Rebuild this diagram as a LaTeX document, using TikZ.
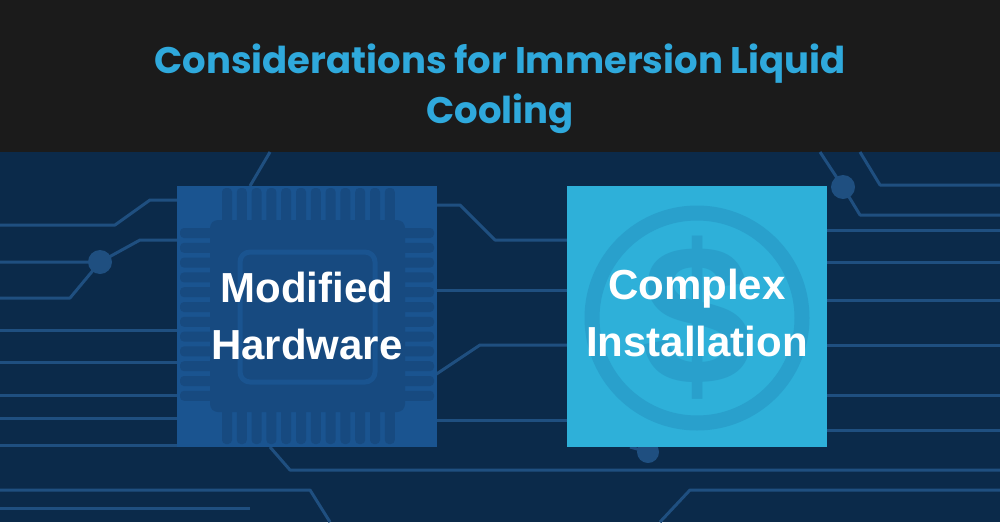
\documentclass[tikz,border=0pt]{standalone}
\usepackage{fontspec}
\setmainfont{Liberation Sans}
\newfontfamily\titlefont{Poppins}
\definecolor{topbg}{HTML}{1B1B1B}
\definecolor{navy}{HTML}{0B2A4A}
\definecolor{trace}{HTML}{1F4F80}
\definecolor{chipbg}{HTML}{1A5490}
\definecolor{chipbody}{HTML}{174A80}
\definecolor{sky}{HTML}{2EB0D9}
\definecolor{skydark}{HTML}{29A0CC}
\definecolor{titleblue}{HTML}{2FA9DC}
\begin{document}
\begin{tikzpicture}[x=1pt,y=-1pt,
  tr/.style={draw=trace,line width=3pt,line join=round},
  dot/.style={fill=trace},
  label/.style={text=white,font=\bfseries\fontsize{42}{57}\selectfont,align=center}]
\useasboundingbox (0,0) rectangle (1000,522);
\fill[navy] (0,0) rectangle (1000,522);
\fill[topbg] (0,0) rectangle (1000,152);
\node[text=titleblue,font=\titlefont\bfseries\fontsize{37}{50}\selectfont,align=center] (title) at (500,89) {Considerations for Immersion Liquid\\Cooling};
% traces
\draw[tr] (0,225) -- (115,225) -- (150,200) -- (180,200);
\draw[tr] (0,262) -- (100,262) -- (140,240) -- (180,240);
\draw[tr] (0,298) -- (70,298) -- (100,262);
\draw[tr] (0,330) -- (180,330);
\draw[tr] (0,362) -- (180,362);
\draw[tr] (0,395) -- (180,395);
\draw[tr] (0,418) -- (180,418);
\draw[tr] (0,445) -- (180,445);
\draw[tr] (270,152) -- (250,186);
\draw[tr] (435,205) -- (460,205) -- (495,240) -- (570,240);
\draw[tr] (435,290) -- (570,290);
\draw[tr] (435,375) -- (480,345) -- (570,345);
\draw[tr] (435,420) -- (570,420);
\draw[tr] (270,447) -- (290,470) -- (1000,470);
\draw[tr] (630,447) -- (648,452);
\draw[tr] (0,490) -- (310,490) -- (330,522);
\draw[tr] (660,522) -- (690,490) -- (1000,490);
\draw[tr] (0,508) -- (250,508);
\draw[tr] (820,152) -- (843,187) -- (860,215) -- (1000,215);
\draw[tr] (825,230) -- (1000,230);
\draw[tr] (825,262) -- (1000,262);
\draw[tr] (825,300) -- (1000,300);
\draw[tr] (825,345) -- (1000,345);
\draw[tr] (825,395) -- (1000,395);
\draw[tr] (825,430) -- (1000,430);
\draw[tr] (860,152) -- (880,185) -- (1000,185);
\fill[dot] (100,262) circle (12);
\fill[dot] (843,187) circle (12);
\fill[dot] (648,452) circle (11);
% left chip box
\node[fill=chipbg,minimum width=260,minimum height=261,inner sep=0,anchor=north west] (hw) at (177,186) {};
\foreach \i in {0,...,11}{
  \fill[chipbody,rounded corners=4] (222+\i*14.8,188) rectangle (232+\i*14.8,232);
  \fill[chipbody,rounded corners=4] (222+\i*14.8,400) rectangle (232+\i*14.8,444);
  \fill[chipbody,rounded corners=4] (180,228+\i*14.8) rectangle (225,238+\i*14.8);
  \fill[chipbody,rounded corners=4] (390,228+\i*14.8) rectangle (434,238+\i*14.8);
}
\fill[chipbody,rounded corners=8] (210,220) rectangle (405,412);
\draw[chipbg,line width=5pt,rounded corners=10] (240,252) rectangle (375,382);
\node[label] (hwt) at (307,316) {Modified\\Hardware};
% right box
\node[fill=sky,minimum width=260,minimum height=261,inner sep=0,anchor=north west] (ci) at (567,186) {};
\draw[skydark,line width=15pt] (697,318) circle (105);
\node[text=skydark,font=\bfseries\fontsize{200}{200}\selectfont] (dollar) at (697,318) {\$};
\node[label] (cit) at (697,313) {Complex\\Installation};
\end{tikzpicture}
\end{document}
